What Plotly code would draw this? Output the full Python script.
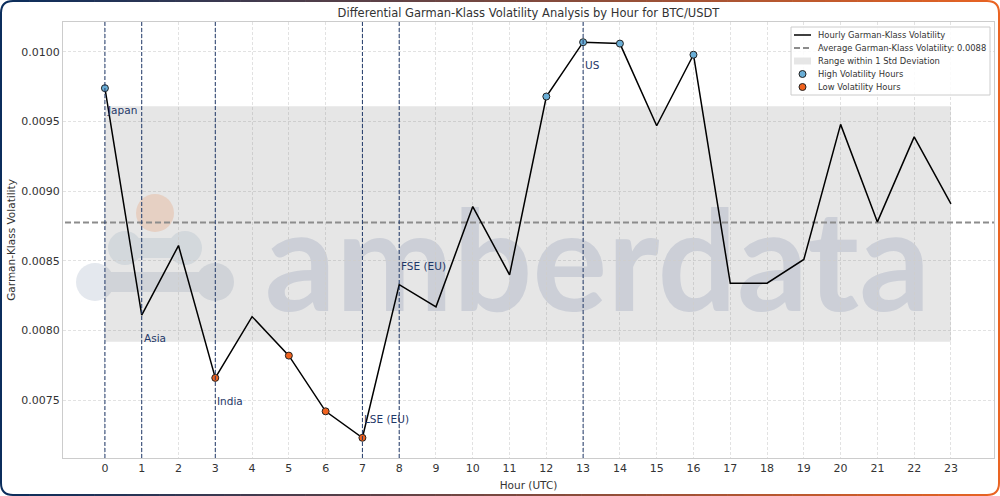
import plotly.graph_objects as go

hours = list(range(24))
volatility = [0.00974, 0.00811, 0.00861, 0.00766, 0.00810, 0.00782, 0.00742, 0.00723,
              0.00833, 0.00817, 0.00889, 0.00840, 0.00968, 0.01007, 0.01006, 0.00947,
              0.00998, 0.00834, 0.00834, 0.00851, 0.00948, 0.00878, 0.00939, 0.00891]
high_hours = [0, 12, 13, 14, 16]
low_hours = [3, 5, 6, 7]
avg_vol = 0.008775
std_lo = 0.00792
std_hi = 0.00961
session_hours = [0, 1, 3, 7, 8, 13]
session_labels = ["Japan", "Asia", "India", "LSE (EU)", "FSE (EU)", "US"]
session_shift = [-22, -23, -23, 19, 19, -23]

W, H = 1000, 496
ML, MR, MT, MB = 63, 6, 22, 38
PW, PH = W - ML - MR, H - MT - MB

def px(x):
    return (x - ML) / PW

def py(y):
    return (H - MB - y) / PH

FONT = "DejaVu Sans"
NAVY = "#1f3868"
HIGH_C = "#6aaed6"
LOW_C = "#f0621e"

names = ["Hourly Garman-Klass Volatility",
         f"Average Garman-Klass Volatility: {avg_vol:.4f}",
         "Range within 1 Std Deviation",
         "High Volatility Hours",
         "Low Volatility Hours"]

fig = go.Figure()

fig.add_trace(go.Scatter(x=[hours[0], hours[-1], hours[-1], hours[0], hours[0]],
                         y=[std_lo, std_lo, std_hi, std_hi, std_lo],
                         fill="toself", mode="lines", line=dict(width=0),
                         fillcolor="rgba(128,128,128,0.2)", hoverinfo="skip",
                         name=names[2]))
fig.add_trace(go.Scatter(x=[-5, 30], y=[avg_vol, avg_vol], mode="lines",
                         line=dict(color="#8c8c8c", width=2, dash="6px,3px"),
                         name=names[1]))
fig.add_trace(go.Scatter(x=hours, y=volatility, mode="lines",
                         line=dict(color="black", width=1.5),
                         name=names[0]))
fig.add_trace(go.Scatter(x=high_hours, y=[volatility[h] for h in high_hours], mode="markers",
                         marker=dict(color=HIGH_C, size=7, line=dict(color="#222", width=1)),
                         name=names[3]))
fig.add_trace(go.Scatter(x=low_hours, y=[volatility[h] for h in low_hours], mode="markers",
                         marker=dict(color=LOW_C, size=7, line=dict(color="#222", width=1)),
                         name=names[4]))

shapes = []
for h in session_hours:
    shapes.append(dict(type="line", xref="x", yref="paper", x0=h, x1=h, y0=0, y1=1,
                       line=dict(color=NAVY, width=1, dash="4px,2px"), layer="above"))

# watermark (logo + text)
def circ(cx, cy, r, color, layer="below"):
    return dict(type="circle", xref="paper", yref="paper",
                x0=px(cx - r), x1=px(cx + r), y0=py(cy + r), y1=py(cy - r),
                fillcolor=color, line=dict(width=0), layer=layer)

wm = "rgb(228,232,238)"
shapes += [
    circ(95, 282, 19, wm), circ(215, 282, 19, wm),
    dict(type="rect", xref="paper", yref="paper", x0=px(95), x1=px(215), y0=py(292), y1=py(272),
         fillcolor=wm, line=dict(width=0), layer="below"),
    circ(125, 248, 17, "rgb(232,238,243)"), circ(185, 248, 17, "rgb(232,238,243)"),
    dict(type="rect", xref="paper", yref="paper", x0=px(125), x1=px(185), y0=py(258), y1=py(238),
         fillcolor="rgb(232,238,243)", line=dict(width=0), layer="below"),
    circ(155, 213, 19, "rgb(255,228,212)"),
    dict(type="rect", xref="paper", yref="paper", x0=px(245), x1=px(950), y0=py(325), y1=py(185),
         fillcolor="rgba(0,0,0,0)", line=dict(width=0), layer="below",
         label=dict(text="<b>amberdata</b>",
                    font=dict(family="Lato", size=140, color="rgb(223,227,237)"),
                    textposition="middle center")),
]

# gradient rounded border
def lerp(t):
    c0 = (11, 45, 92)
    c1 = (234, 100, 34)
    return "rgb(%d,%d,%d)" % tuple(round(a + (b - a) * t) for a, b in zip(c0, c1))

R = 12
bx0, bx1, by0, by1 = 1, 999, 1, 495
N = 60
for i in range(N):
    xa = bx0 + R + (bx1 - bx0 - 2 * R) * i / N
    xb = bx0 + R + (bx1 - bx0 - 2 * R) * (i + 1) / N + 0.6
    col = lerp((xa - bx0) / (bx1 - bx0))
    for yy in (by0, by1):
        shapes.append(dict(type="line", xref="paper", yref="paper", x0=px(xa), x1=px(xb),
                           y0=py(yy), y1=py(yy), line=dict(color=col, width=2), layer="above"))
left_path = (f"M {px(bx0 + R)},{py(by0)} Q {px(bx0)},{py(by0)} {px(bx0)},{py(by0 + R)} "
             f"L {px(bx0)},{py(by1 - R)} Q {px(bx0)},{py(by1)} {px(bx0 + R)},{py(by1)}")
right_path = (f"M {px(bx1 - R)},{py(by0)} Q {px(bx1)},{py(by0)} {px(bx1)},{py(by0 + R)} "
              f"L {px(bx1)},{py(by1 - R)} Q {px(bx1)},{py(by1)} {px(bx1 - R)},{py(by1)}")
shapes.append(dict(type="path", xref="paper", yref="paper", path=left_path,
                   line=dict(color=lerp(0), width=2), layer="above"))
shapes.append(dict(type="path", xref="paper", yref="paper", path=right_path,
                   line=dict(color=lerp(1), width=2), layer="above"))

annotations = []
for h, lab, s in zip(session_hours, session_labels, session_shift):
    annotations.append(dict(x=h, y=volatility[h], xref="x", yref="y", text=lab,
                            showarrow=False, xanchor="left", yanchor="middle",
                            xshift=0, yshift=s,
                            font=dict(family=FONT, size=10.5, color=NAVY)))

# compact legend box (drawn manually to match the compact matplotlib legend)
LX0, LX1, LY0, LY1 = 791, 990, 27, 95
shapes.append(dict(type="rect", xref="paper", yref="paper", x0=px(LX0), x1=px(LX1),
                   y0=py(LY1), y1=py(LY0), fillcolor="rgba(255,255,255,0.85)",
                   line=dict(color="#cccccc", width=1), layer="above"))
rows = [35, 48, 61, 74, 87]
gx0, gx1, gxc = 794, 811, 802.5
shapes.append(dict(type="line", xref="paper", yref="paper", x0=px(gx0), x1=px(gx1),
                   y0=py(rows[0]), y1=py(rows[0]), line=dict(color="black", width=1.5), layer="above"))
shapes.append(dict(type="line", xref="paper", yref="paper", x0=px(gx0), x1=px(gx1),
                   y0=py(rows[1]), y1=py(rows[1]),
                   line=dict(color="#8c8c8c", width=2, dash="6px,3px"), layer="above"))
shapes.append(dict(type="rect", xref="paper", yref="paper", x0=px(gx0), x1=px(gx1),
                   y0=py(rows[2] + 3.5), y1=py(rows[2] - 3.5),
                   fillcolor="rgb(230,230,230)", line=dict(width=0), layer="above"))
shapes.append(circ(gxc, rows[3], 3.5, HIGH_C, layer="above") | dict(line=dict(color="#222", width=1)))
shapes.append(circ(gxc, rows[4], 3.5, LOW_C, layer="above") | dict(line=dict(color="#222", width=1)))
for r, t in zip(rows, names):
    annotations.append(dict(x=px(816), y=py(r), xref="paper", yref="paper", text=t,
                            showarrow=False, xanchor="left", yanchor="middle",
                            font=dict(family=FONT, size=8.4, color="#333333")))

fig.update_layout(
    width=W, height=H,
    margin=dict(l=ML, r=MR, t=MT, b=MB),
    paper_bgcolor="white", plot_bgcolor="white",
    title=dict(text="Differential Garman-Klass Volatility Analysis by Hour for BTC/USDT",
               x=0.5, xref="paper", xanchor="center", y=1 - 13 / H, yanchor="middle",
               font=dict(family=FONT, size=11.5, color="#333333")),
    font=dict(family=FONT, color="#333333"),
    showlegend=False,
    shapes=shapes,
    annotations=annotations,
)
fig.update_xaxes(range=[-1.14, 24.17], tickvals=hours, ticktext=[str(h) for h in hours],
                 showgrid=True, gridcolor="#e2e2e2", griddash="3px,2px", gridwidth=0.7,
                 showline=True, linecolor="#cccccc", mirror=True, zeroline=False,
                 ticks="", tickfont=dict(family=FONT, size=11, color="#333333"),
                 title=dict(text="Hour (UTC)", font=dict(family=FONT, size=10.5, color="#333333"),
                            standoff=7))
fig.update_yaxes(range=[0.007085, 0.010215], tickvals=[0.0075, 0.0080, 0.0085, 0.0090, 0.0095, 0.0100],
                 tickformat=".4f",
                 showgrid=True, gridcolor="#e2e2e2", griddash="3px,2px", gridwidth=0.7,
                 showline=True, linecolor="#cccccc", mirror=True, zeroline=False,
                 ticks="", tickfont=dict(family=FONT, size=11, color="#333333"),
                 title=dict(text="Garman-Klass Volatility", font=dict(family=FONT, size=10.5, color="#333333"),
                            standoff=3))

fig.write_html("out.html")
